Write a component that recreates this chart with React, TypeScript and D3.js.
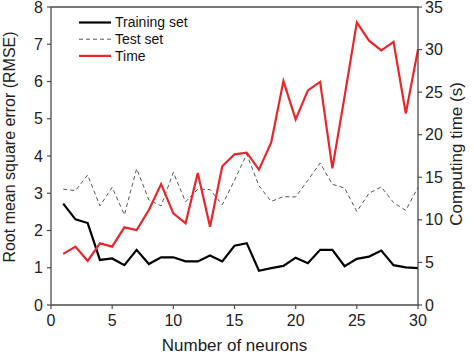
import React from "react";
import * as d3 from "d3";

const neurons = d3.range(1, 31);
const trainingSet = [2.72, 2.3, 2.2, 1.21, 1.25, 1.07, 1.48, 1.1, 1.28, 1.28, 1.17, 1.17, 1.33, 1.17, 1.59, 1.66, 0.92, 0.99, 1.05, 1.27, 1.12, 1.48, 1.48, 1.04, 1.24, 1.3, 1.46, 1.07, 1.01, 0.99];
const testSet = [3.11, 3.07, 3.49, 2.66, 3.16, 2.42, 3.66, 2.82, 2.66, 3.56, 2.77, 3.11, 3.1, 2.69, 3.35, 4.05, 3.2, 2.78, 2.91, 2.9, 3.35, 3.81, 3.24, 3.14, 2.51, 3.0, 3.17, 2.75, 2.54, 3.16];
const timeSec = [6.0, 6.85, 5.17, 7.24, 6.85, 9.12, 8.8, 11.16, 14.2, 10.77, 9.6, 15.5, 9.2, 16.3, 17.7, 17.9, 15.9, 19.1, 26.3, 21.8, 25.2, 26.2, 16.05, 24.5, 33.2, 31.05, 29.9, 30.9, 22.5, 30.0];
const xTicks = [0, 5, 10, 15, 20, 25, 30];
const yLeftTicks = [0, 1, 2, 3, 4, 5, 6, 7, 8];
const yRightTicks = [0, 5, 10, 15, 20, 25, 30, 35];
const legendItems = ["Training set", "Test set", "Time"];

export default function App() {
  const W = 474, H = 355;
  const L = 51, R = 418, T = 7, B = 305;
  const x = d3.scaleLinear().domain([0, 30]).range([L, R]);
  const yL = d3.scaleLinear().domain([0, 8]).range([B, T]);
  const yR = d3.scaleLinear().domain([0, 35]).range([B, T]);
  const lineL = d3.line<number>().x((_, i) => x(neurons[i])).y((d) => yL(d));
  const lineR = d3.line<number>().x((_, i) => x(neurons[i])).y((d) => yR(d));
  const axisColor = "#4a4a4a";
  const font = "Liberation Sans, Arial, sans-serif";
  const red = "#e8262b";
  const legendStyles = [
    { stroke: "#000", width: 2.2, dash: undefined as string | undefined },
    { stroke: "#555", width: 1, dash: "4,3" },
    { stroke: red, width: 2.2, dash: undefined },
  ];
  return (
    <svg width={W} height={H} style={{ position: "absolute", left: 0, top: 0 }} fontFamily={font}>
      <rect width={W} height={H} fill="#fff" />
      {/* lines */}
      <path d={lineL(testSet) || ""} fill="none" stroke="#555" strokeWidth={1} strokeDasharray="4,3" />
      <path d={lineL(trainingSet) || ""} fill="none" stroke="#000" strokeWidth={2.2} strokeLinejoin="miter" />
      <path d={lineR(timeSec) || ""} fill="none" stroke={red} strokeWidth={2.2} strokeLinejoin="miter" />
      {/* axes */}
      <line x1={L} x2={R} y1={T} y2={T} stroke={axisColor} strokeWidth={1.6} />
      <line x1={L} x2={R} y1={B} y2={B} stroke={axisColor} strokeWidth={1.3} />
      <line x1={L} x2={L} y1={T} y2={B} stroke={axisColor} strokeWidth={1.3} />
      <line x1={R} x2={R} y1={T} y2={B} stroke={axisColor} strokeWidth={1.3} />
      {xTicks.map((t) => (
        <g key={"x" + t}>
          <line x1={x(t)} x2={x(t)} y1={B} y2={B + 4} stroke={axisColor} strokeWidth={1.2} />
          <text x={x(t)} y={B + 21} textAnchor="middle" fontSize={16} fill="#222">{t}</text>
        </g>
      ))}
      {yLeftTicks.map((t) => (
        <g key={"yl" + t}>
          <line x1={L - 4} x2={L} y1={yL(t)} y2={yL(t)} stroke={axisColor} strokeWidth={1.2} />
          <text x={L - 8} y={yL(t)} dy="0.35em" textAnchor="end" fontSize={16} fill="#222">{t}</text>
        </g>
      ))}
      {yRightTicks.map((t) => (
        <g key={"yr" + t}>
          <line x1={R} x2={R + 4} y1={yR(t)} y2={yR(t)} stroke={axisColor} strokeWidth={1.2} />
          <text x={R + 7} y={yR(t)} dy="0.35em" textAnchor="start" fontSize={16} fill="#222">{t}</text>
        </g>
      ))}
      <text x={(L + R) / 2} y={351} textAnchor="middle" fontSize={17} fill="#222">Number of neurons</text>
      <text transform={`translate(15,147) rotate(-90)`} textAnchor="middle" fontSize={16} fill="#222">Root mean square error (RMSE)</text>
      <text transform={`translate(462,154) rotate(-90)`} textAnchor="middle" fontSize={17} fill="#222">Computing time (s)</text>
      {/* legend */}
      {legendItems.map((name, i) => (
        <g key={name}>
          <line x1={79} x2={111} y1={22.5 + i * 16.7} y2={22.5 + i * 16.7} stroke={legendStyles[i].stroke} strokeWidth={legendStyles[i].width} strokeDasharray={legendStyles[i].dash} />
          <text x={115} y={22.5 + i * 16.7} dy="0.35em" fontSize={14} fill="#111">{name}</text>
        </g>
      ))}
    </svg>
  );
}
